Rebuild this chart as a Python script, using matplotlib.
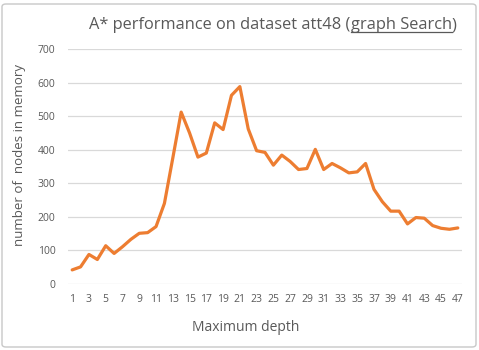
import matplotlib
matplotlib.use('Agg')
import matplotlib.pyplot as plt
from matplotlib.patches import FancyBboxPatch

depth = list(range(1, 48))
nodes = [42, 51, 88, 73, 114, 91, 111, 133, 151, 153,
         171, 240, 375, 512, 450, 378, 390, 480, 460, 562,
         588, 462, 397, 392, 354, 384, 365, 341, 344, 401,
         341, 359, 346, 331, 334, 359, 282, 245, 217, 217,
         179, 198, 196, 174, 166, 163, 167]
x_ticks = list(range(1, 48, 2))
y_ticks = list(range(0, 701, 100))

title_pre = 'A* performance on dataset att48 ('
title_ul = 'graph Search'
title_post = ')'

text_color = '#595959'
grid_color = '#d9d9d9'
line_color = '#ed7d31'

plt.rcParams['font.family'] = ['Open Sans', 'DejaVu Sans']

fig = plt.figure(figsize=(4.79, 3.5), dpi=100)
ax = fig.add_axes([68 / 479, 1 - 284 / 350, 394 / 479, 235 / 350])

ax.plot(depth, nodes, color=line_color, linewidth=2.3, solid_joinstyle='round',
        solid_capstyle='round', zorder=3)

ax.set_xlim(0.5, 47.5)
ax.set_ylim(0, 700)
ax.set_xticks(x_ticks)
ax.set_yticks(y_ticks)
ax.tick_params(length=0, labelsize=7.5, colors=text_color, pad=7)
ax.tick_params(axis='y', pad=9)
ax.grid(axis='y', color=grid_color, linewidth=0.9)
ax.set_axisbelow(True)
for s in ax.spines.values():
    s.set_visible(False)

ax.set_xlabel('Maximum depth', fontsize=10, color=text_color)
ax.set_ylabel('number of  nodes in memory', fontsize=9.5, color=text_color)
ax.xaxis.set_label_coords(0.452, -0.153)
ax.yaxis.set_label_coords(-0.106, 0.55)

# title in three pieces so the middle part can be underlined
fig.canvas.draw()
renderer = fig.canvas.get_renderer()
tsize = 11.8
ty = 1 - 29 / 350
pieces = []
for s in (title_pre, title_ul, title_post):
    t = fig.text(0, ty, s, fontsize=tsize, color=text_color, va='baseline')
    pieces.append(t)
widths = [p.get_window_extent(renderer).width for p in pieces]
total = sum(widths)
x0 = (273 / 479) - total / 2 / 479
xs = []
for p, w in zip(pieces, widths):
    p.set_x(x0)
    xs.append(x0)
    x0 += w / 479
ul_y = ty - 3 / 350
fig.add_artist(plt.Line2D([xs[1], xs[1] + widths[1] / 479], [ul_y, ul_y],
                          color=text_color, linewidth=0.9))

# light frame around the chart
frame = FancyBboxPatch((2 / 479, 3 / 350), 474 / 479, 343 / 350,
                       boxstyle='round,pad=0,rounding_size=0.008',
                       transform=fig.transFigure, facecolor='none',
                       edgecolor='#c8c8c8', linewidth=1.0)
fig.add_artist(frame)

fig.savefig('out.png', dpi=100)
